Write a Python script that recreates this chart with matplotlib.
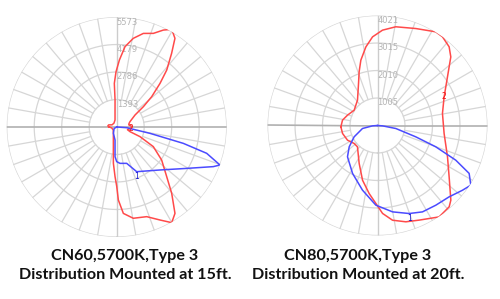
#!/usr/bin/env python3
"""Two photometric polar distribution charts (CN60 / CN80, Type 3)."""

import numpy as np
import matplotlib
matplotlib.use("Agg")
import matplotlib.pyplot as plt

# angles in degrees measured from nadir (0 = down, 90 = right, 180 = up)
# ---- CN60 @ 15ft ----
left_max = 5573
left_rings = [1393, 2786, 4179, 5573]
left_ring_labels = ["1393", "2786", "4179", "5573"]

left_red_theta = [-90, -80, -50, -28, -14.4, -9.6, -7, -5.2, -1.9, 0, 1.3, 4.4, 10.3,
                  18.5, 25, 29.9, 34, 39.7, 45.2, 53.7, 61.8, 67.5, 70.7, 76, 84, 92,
                  100, 106, 112, 123.2, 127.3, 130.9, 135.2, 138.7, 143.3, 146.7,
                  150.6, 154.3, 158.6, 164.1, 169.4, 174.1, 177.7, 180.7, 183.1,
                  183.5, 185.6, 193.4, 215, 245, 255, 262, 268, 270]
left_red_cd = [380, 260, 230, 360, 680, 1010, 1400, 1850, 2520, 3000, 3700, 4390, 4700,
               4790, 5200, 5590, 5280, 4360, 3570, 2825, 2105, 1280, 715, 560, 700, 780,
               620, 650, 727, 1110, 1700, 2345, 3115, 3840, 4655, 5375,
               5680, 5450, 5095, 4930, 4570, 4090, 3395, 2800, 2215,
               1370, 865, 365, 240, 260, 420, 450, 420, 380]

left_blue_theta = [-90, -60, -27.8, -7.3, -3.2, 0, 5.2, 15.4, 24.1, 45.2, 59.4, 67.7,
                   69.8, 73.7, 76.2, 79.2, 86, 90]
left_blue_cd = [0, 150, 360, 665, 1505, 1755, 1850, 1910, 2480, 3090, 4120, 5290,
                5575, 4750, 3475, 1720, 510, 0]

# ---- CN80 @ 20ft ----
right_max = 4021
right_rings = [1005, 2010, 3015, 4021]
right_ring_labels = ["1005", "2010", "3015", "4021"]

right_red_theta = [-87.9, -77.1, -63.9, -52.4, -43.2, -25.8, -15.3, -7, -1.2, 3.3, 9,
                   16.4, 23.8, 34, 41.4, 44.5, 54.4, 65.9, 83.2, 100.5, 113.3, 124.8,
                   133.1, 137.7, 143.8, 148.1, 158.4, 169.5, 177, 183.2, 188.4, 194.3,
                   198.9, 204.3, 218.3, 236.7, 251, 261.3, 272.1]
right_red_cd = [1340, 1310, 1220, 1077, 1070, 1540, 2073, 2505, 2850, 3220, 3505,
                3670, 3780, 4030, 3962, 3825, 3220, 2803, 2452, 2415, 2652, 3115,
                3670, 3890, 4020, 4033, 3812, 3670, 3490, 3245, 2905, 2465,
                2073, 1685, 1180, 1020, 1160, 1294, 1340]

right_blue_theta = [-90, -86, -78.7, -64.1, -53, -43.8, -27.5, -13.1, -1.2, 9.9, 19.8,
                    27.5, 36.2, 45.1, 52.7, 57.4, 62.4, 66.1, 69.9, 73.5, 80.7, 86, 90]
right_blue_cd = [0, 183, 560, 950, 1295, 1585, 1975, 2425, 2912, 3205, 3420,
                 3560, 3610, 3695, 3905, 4050, 3780, 3130, 2270, 1460, 680, 183, 0]

captions = [
    ("CN60,5700K,Type 3", "Distribution Mounted at 15ft."),
    ("CN80,5700K,Type 3", "Distribution Mounted at 20ft."),
]

RED = "#ff4a4a"
BLUE = "#4b4bff"
GRID = "#d6d6d6"


def polar_panel(fig, rect, rmax, rings, ring_labels, red, blue, red_lbl, blue_lbl):
    ax = fig.add_axes(rect, projection="polar")
    ax.set_theta_zero_location("S")
    ax.set_theta_direction(1)
    ax.set_ylim(0, rmax)
    ax.grid(False)
    ax.set_xticks([])
    ax.set_yticks([])
    ax.spines["polar"].set_visible(False)
    ax.set_facecolor("none")

    full = np.linspace(0, 2 * np.pi, 361)
    for r in rings:
        ax.plot(full, np.full_like(full, r), color=GRID, lw=0.9, zorder=1)
    for deg in range(0, 360, 10):
        if deg % 90 == 0:
            continue
        th = np.deg2rad(deg)
        ax.plot([th, th], [rings[0], rmax], color=GRID, lw=0.9, zorder=1)
    # main axes lines through the centre
    ax.plot([0, 0], [0, rmax], color="#cccccc", lw=1.0, zorder=1)
    ax.plot([np.pi, np.pi], [0, rmax], color="#cccccc", lw=1.0, zorder=1)
    ax.plot([np.pi / 2, np.pi / 2], [0, rmax], color="#b0b0b0", lw=1.2, zorder=1)
    ax.plot([-np.pi / 2, -np.pi / 2], [0, rmax], color="#b0b0b0", lw=1.2, zorder=1)

    for r, lab in zip(rings, ring_labels):
        ax.text(np.pi, r * 0.995, lab, ha="left", va="top", fontsize=6,
                color="#b4b4b4", zorder=2)

    rt, rc = red
    bt, bc = blue
    ax.plot(np.deg2rad(rt), rc, color=RED, lw=1.1, zorder=3)
    ax.plot(np.deg2rad(bt), bc, color=BLUE, lw=1.1, zorder=3)

    i = red_lbl
    ax.text(np.deg2rad(rt[i]), rc[i], "2", color="#ee1111", fontsize=5.5,
            ha="center", va="center", zorder=4)
    j = blue_lbl
    ax.text(np.deg2rad(bt[j]), bc[j], "1", color="#1111cc", fontsize=5.5,
            ha="center", va="top", zorder=4)
    return ax


def main() -> None:
    fig = plt.figure(figsize=(5.0, 2.99), dpi=100)

    polar_panel(fig, [6.7 / 500, 62 / 299, 220 / 500, 220 / 299],
                left_max, left_rings, left_ring_labels,
                (left_red_theta, left_red_cd), (left_blue_theta, left_blue_cd),
                left_red_theta.index(84), left_blue_theta.index(24.1))
    polar_panel(fig, [267.5 / 500, 63.5 / 299, 220 / 500, 220 / 299],
                right_max, right_rings, right_ring_labels,
                (right_red_theta, right_red_cd), (right_blue_theta, right_blue_cd),
                right_red_theta.index(113.3), right_blue_theta.index(19.8))

    for xc, (l1, l2) in zip([125 / 500, 358 / 500], captions):
        fig.text(xc, 1 - 256 / 299, l1, ha="center", va="center", fontsize=11.6,
                 fontweight="bold", family="Lato", color="#111111")
        fig.text(xc, 1 - 275 / 299, l2, ha="center", va="center", fontsize=11.6,
                 fontweight="bold", family="Lato", color="#111111")

    fig.savefig("out.png", dpi=100, facecolor="white")
    plt.close(fig)


if __name__ == "__main__":
    main()
